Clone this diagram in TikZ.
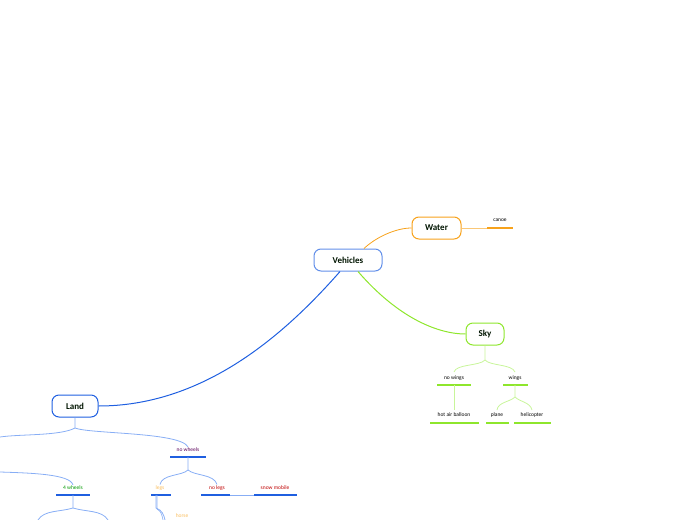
\documentclass[tikz,border=0pt]{standalone}
\usepackage{fontspec}
\setmainfont{Carlito}
\begin{document}
\begin{tikzpicture}[x=1pt,y=-1pt,
  main/.style={draw=#1,line width=1pt,rounded corners=7pt,minimum height=22pt,inner xsep=8pt,font=\bfseries\small,text=black!80!green!40!black},
  sub/.style={font=\fontsize{5.5}{6}\selectfont,text=#1,inner sep=1pt},
  ul/.style={draw=#1,line width=1.3pt}]
\useasboundingbox (0,0) rectangle (697,520);
\definecolor{cb}{HTML}{1F5FE0}\definecolor{cbl}{HTML}{88AEF5}
\definecolor{co}{HTML}{F7A21B}\definecolor{cg}{HTML}{8EE62C}\definecolor{cgl}{HTML}{C8F59A}
\node[main=cb!70,minimum width=68pt] (veh) at (348,260) {Vehicles};
\node[main=co,minimum width=49pt] (wat) at (436.5,228) {Water};
\node[main=cg,minimum width=38pt] (sky) at (485,334) {Sky};
\node[main=cb,minimum width=46pt] (land) at (75,406) {Land};
\draw[co,line width=0.8pt] (veh.north)++(16,0) coordinate (v1) .. controls (375,238) and (395,228) .. (wat.west);
\draw[cg,line width=1pt] (veh.south)++(10,0) .. controls (400,320) and (440,334) .. (sky.west);
\draw[cb,line width=1pt] (veh.south)++(-8,0) .. controls (280,340) and (200,406) .. (land.east);
% water
\node[sub=black] (canoe) at (500,220) {canoe};
\coordinate (cu1) at (487,228); \coordinate (cu2) at (513,228);
\draw[co!60] (wat.east) -- (cu1);
\draw[ul=co] (cu1) -- (cu2);
% sky
\node[sub=black] (nw) at (454,378) {no wings};
\node[sub=black] (w) at (515,378) {wings};
\node[sub=black] (hab) at (454,415) {hot air balloon};
\node[sub=black] (pl) at (497,415) {plane};
\node[sub=black] (he) at (532,415) {helicopter};
\draw[ul=cg] (437,385) -- (471,385);
\draw[ul=cg] (503,385) -- (528,385);
\draw[ul=cg] (430,423) -- (479,423);
\draw[ul=cg] (486,423) -- (509,423);
\draw[ul=cg] (514,423) -- (551,423);
\draw[cgl,line width=0.8pt] (sky.south) -- (485,360) .. controls (480,366) and (456,364) .. (454,372);
\draw[cgl,line width=0.8pt] (485,360) .. controls (490,366) and (512,364) .. (515,372);
\draw[cgl,line width=0.8pt] (454,385) -- (454,410);
\draw[cgl,line width=0.8pt] (515,385) -- (515,397) .. controls (510,402) and (498,402) .. (497,410);
\draw[cgl,line width=0.8pt] (515,397) .. controls (520,402) and (530,402) .. (532,410);
% land
\node[sub=violet!70!black] (nwh) at (188,450) {no wheels};
\node[sub=green!60!black] (fw) at (73,488) {4 wheels};
\node[sub=co!70] (legs) at (160,488) {legs};
\node[sub=red!75!black] (nl) at (217,488) {no legs};
\node[sub=red!75!black] (sm) at (275,488) {snow mobile};
\node[sub=co!70] (horse) at (182,516) {horse};
\draw[ul=cb] (170,457) -- (206,457);
\draw[ul=cb] (56,495) -- (90,495);
\draw[ul=cb] (151,495) -- (171,495);
\draw[ul=cb] (201,495) -- (230,495);
\draw[ul=cb] (254,495) -- (297,495);
\draw[cbl] (230,495) -- (254,495);
\draw[cbl,line width=0.8pt] (land.south) -- (75,428) .. controls (60,436) and (20,434) .. (0,437);
\draw[cbl,line width=0.8pt] (75,428) .. controls (90,434) and (180,432) .. (nwh.north);
\draw[cbl,line width=0.8pt] (0,472) .. controls (30,473) and (70,474) .. (fw.north);
\draw[cbl,line width=0.8pt] (188,457) -- (188,470) .. controls (182,476) and (162,474) .. (legs.north);
\draw[cbl,line width=0.8pt] (188,470) .. controls (195,476) and (214,474) .. (nl.north);
\draw[cbl,line width=0.8pt] (73,495) -- (73,508) .. controls (60,512) and (44,510) .. (38,520);
\draw[cbl,line width=0.8pt] (73,508) .. controls (86,512) and (102,510) .. (108,520);
\draw[cbl,line width=0.8pt] (156,495) -- (156,508) .. controls (162,510) and (164,515) .. (165,520);
\draw[cbl,line width=0.6pt] (157,495) -- (157,509) .. controls (161,511) and (162,515) .. (163,520);
\end{tikzpicture}
\end{document}
